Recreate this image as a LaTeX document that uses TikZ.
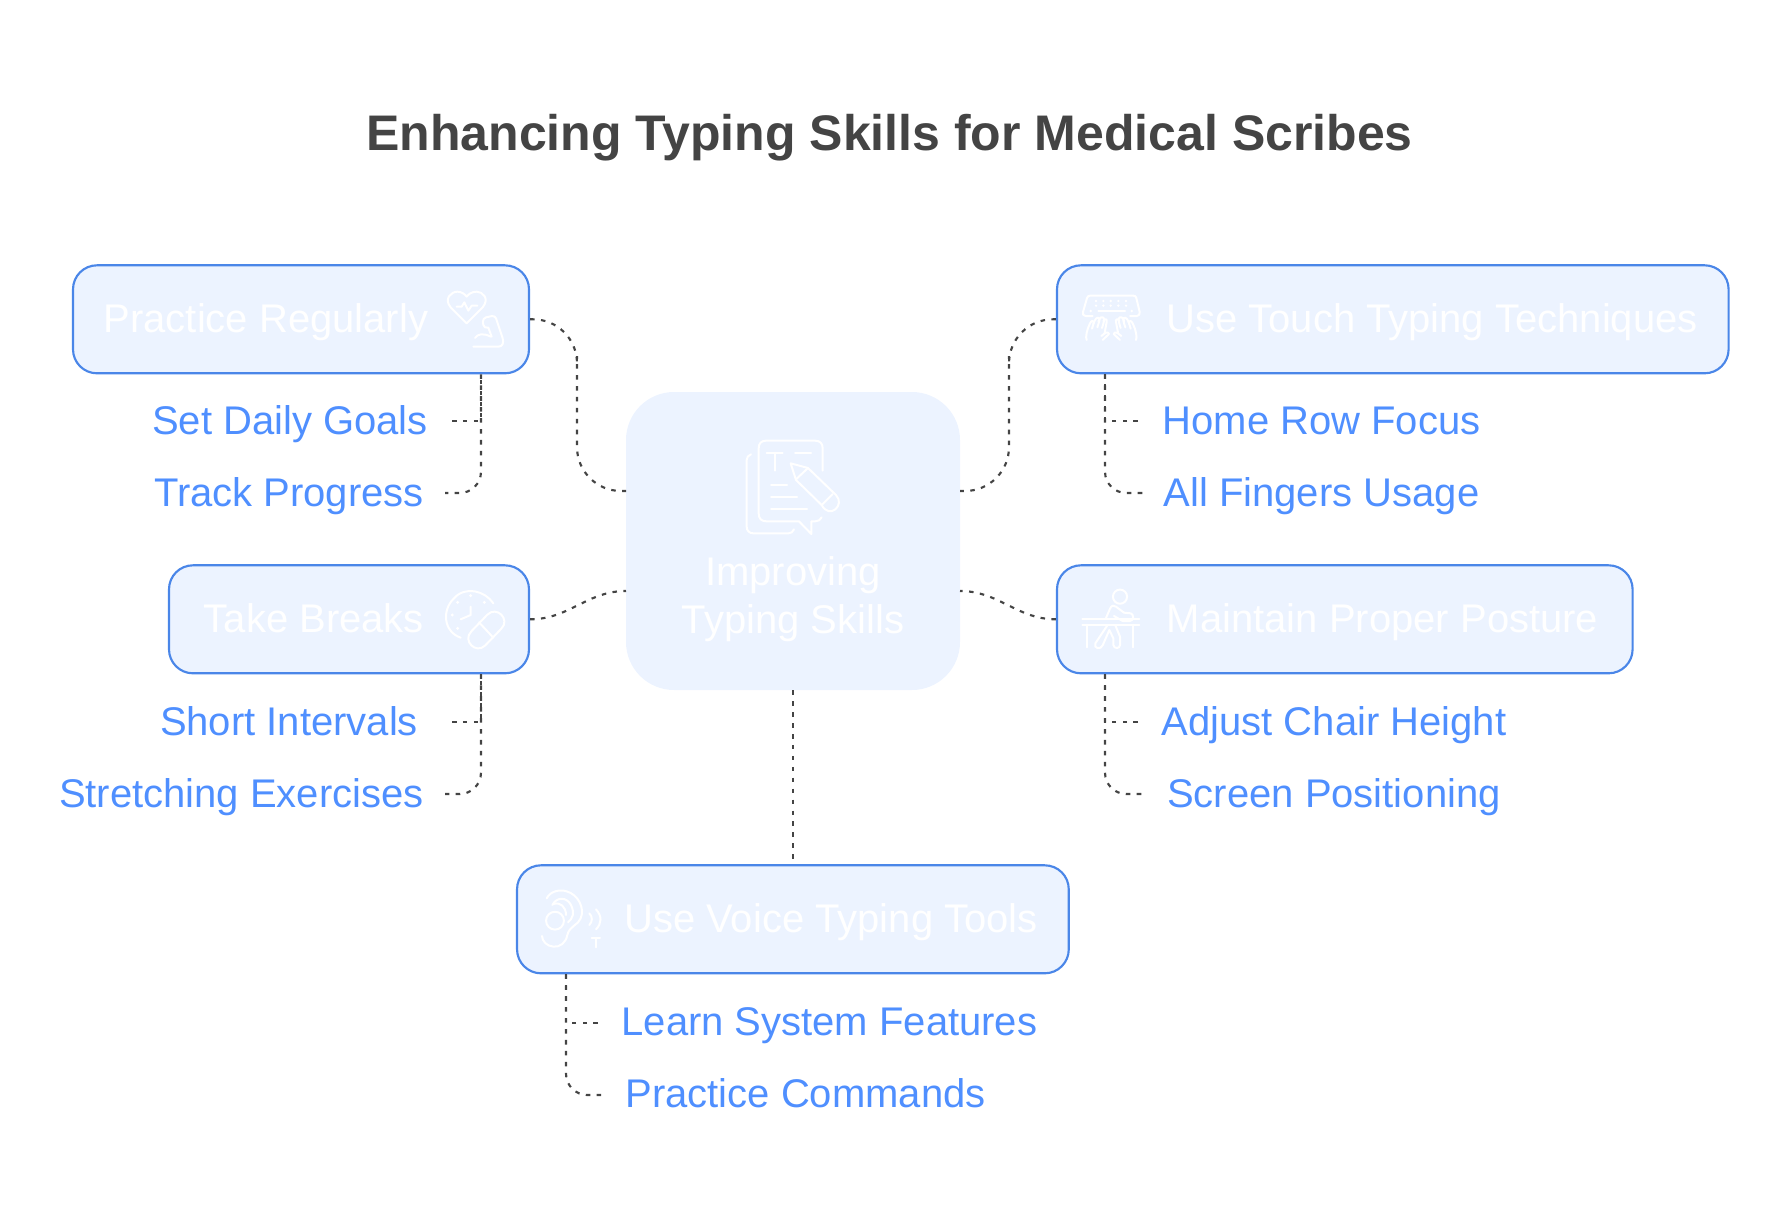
\documentclass[tikz,border=0pt]{standalone}
\usepackage{fontspec}
\setmainfont{Liberation Sans}
\definecolor{panel}{HTML}{ECF3FF}
\definecolor{edge}{HTML}{4A86E8}
\definecolor{leaf}{HTML}{4F8FFF}
\definecolor{ink}{HTML}{444444}
\tikzset{
  catbox/.style={draw=edge,line width=1.6pt,fill=panel,rounded corners=18pt,minimum height=81pt,inner sep=0pt},
  hubbox/.style={fill=panel,rounded corners=36pt,minimum width=250.5pt,minimum height=223.5pt,inner sep=0pt},
  cattext/.style={text=white,font=\fontsize{30pt}{36pt}\selectfont,anchor=base,inner sep=0pt},
  leaftext/.style={text=leaf,font=\fontsize{30pt}{36pt}\selectfont,anchor=base,inner sep=0pt},
  titletext/.style={text=ink,font=\bfseries\fontsize{37.5pt}{42pt}\selectfont,anchor=base,inner sep=0pt},
  conn/.style={draw=ink,line width=1.6pt,dash pattern=on 3.4pt off 4.8pt},
  elbow/.style={conn,rounded corners=33pt},
  twig/.style={conn,rounded corners=16pt},
  glyph/.style={draw=white,line width=1.5pt,line cap=round,line join=round},
  dot/.style={fill=white,draw=none},
}
\begin{document}
\begin{tikzpicture}[x=0.75pt,y=-0.75pt]
\useasboundingbox (0,0) rectangle (1778,1214);

\node[titletext] (title) at (889.5,150) {Enhancing Typing Skills for Medical Scribes};

% boxes
\node[hubbox] (hub) at (793,541) {};
\node[catbox,minimum width=342pt] (practice) at (301,319.3) {};
\node[catbox,minimum width=270pt] (breaks) at (349,619.3) {};
\node[catbox,minimum width=503.7pt] (touch) at (1392.8,319.3) {};
\node[catbox,minimum width=431.7pt] (posture) at (1344.8,619.3) {};
\node[catbox,minimum width=413.8pt] (voice) at (792.9,919.3) {};

% box texts
\node[cattext] (practiceT) at (266,332) {Practice Regularly};
\node[cattext] (breaksT) at (314,632) {Take Breaks};
\node[cattext] (touchT) at (1432,332) {Use Touch Typing Techniques};
\node[cattext] (postureT) at (1382.6,632) {Maintain Proper Posture};
\node[cattext] (voiceT) at (831,932) {Use Voice Typing Tools};
\node[cattext,anchor=center,align=center] (hubT) at (793,599) {Improving\\Typing Skills};

% leaves
\node[leaftext] (goals) at (290,434) {Set Daily Goals};
\node[leaftext] (progress) at (289,506) {Track Progress};
\node[leaftext] (intervals) at (289,735) {Short Intervals};
\node[leaftext] (stretch) at (241.4,807) {Stretching Exercises};
\node[leaftext] (home) at (1321.5,434) {Home Row Focus};
\node[leaftext] (fingers) at (1321.5,506) {All Fingers Usage};
\node[leaftext] (chair) at (1334,735) {Adjust Chair Height};
\node[leaftext] (screen) at (1334,807) {Screen Positioning};
\node[leaftext] (learn) at (829.4,1035) {Learn System Features};
\node[leaftext] (commands) at (805.6,1107) {Practice Commands};

% connector anchors
\coordinate (hubLa) at (626,491);
\coordinate (hubLb) at (626,591);
\coordinate (hubRa) at (960,491);
\coordinate (hubRb) at (960,591);
\coordinate (busL) at (577,400);
\coordinate (busR) at (1009,400);
\coordinate (goalsE) at (452,421);
\coordinate (progressE) at (445,493);
\coordinate (intervalsE) at (452,722);
\coordinate (stretchE) at (445,794);
\coordinate (homeE) at (1138,421);
\coordinate (fingersE) at (1145,493);
\coordinate (chairE) at (1138,722);
\coordinate (screenE) at (1145,794);
\coordinate (learnE) at (598,1023);
\coordinate (commandsE) at (604,1095);
\coordinate (twigL) at (481,400);
\coordinate (twigR) at (1105,400);
\coordinate (twigV) at (566,1000);

% hub connectors
\draw[elbow] (practice.east) -| (busL) |- (hubLa);
\draw[elbow] (touch.west) -| (busR) |- (hubRa);
\draw[conn] (breaks.east) to[out=0,in=180] (hubLb);
\draw[conn] (posture.west) to[out=180,in=0] (hubRb);
\draw[conn] (hub.south) -- (hub.south |- voice.north);

% leaf connectors
\draw[conn] (goalsE) -| (twigL |- practice.south);
\draw[twig] (twigL |- practice.south) |- (progressE);
\draw[conn] (intervalsE) -| (twigL |- breaks.south);
\draw[twig] (twigL |- breaks.south) |- (stretchE);
\draw[conn] (homeE) -| (twigR |- touch.south);
\draw[twig] (twigR |- touch.south) |- (fingersE);
\draw[conn] (chairE) -| (twigR |- posture.south);
\draw[twig] (twigR |- posture.south) |- (screenE);
\draw[conn] (learnE) -| (twigV |- voice.south);
\draw[twig] (twigV |- voice.south) |- (commandsE);

% hub icon
\begin{scope}[shift={(600,380)},x=0.25pt,y=-0.25pt]
  \draw[glyph] (668,272) -- (668,205) .. controls (668,190) and (660,182) .. (645,182) -- (498,182) .. controls (484,182) and (476,190) .. (476,205) -- (476,400) .. controls (476,416) and (484,424) .. (500,424) -- (597,424) -- (634,462) -- (634,424) -- (645,424) .. controls (655,424) and (661,420) .. (665,412);
  \draw[glyph] (500,218) -- (548,218) (525,218) -- (525,272) (585,218) -- (633,218);
  \draw[glyph] (513,314) -- (561,314) (513,350) -- (591,350) (513,386) -- (621,386);
  \draw[glyph] (453,223) .. controls (445,226) and (440,232) .. (440,240) -- (440,440) .. controls (440,452) and (448,460) .. (460,460) -- (565,460) .. controls (573,460) and (579,456) .. (582,448);
  \draw[glyph] (572,250) -- (624,264) -- (708,345) .. controls (722,360) and (718,378) .. (706,388) .. controls (694,398) and (676,396) .. (665,375) -- (588,300) -- cycle;
  \draw[glyph] (588,298) -- (624,264) (665,375) -- (698,342);
\end{scope}

% heart and arm
\begin{scope}[shift={(420,260)},x=0.25pt,y=-0.25pt]
  \draw[glyph] (140,190) -- (92,142) .. controls (70,115) and (95,95) .. (112,95) .. controls (125,95) and (135,103) .. (140,110) .. controls (145,103) and (155,95) .. (170,95) .. controls (187,95) and (210,115) .. (188,142) -- cycle;
  \draw[glyph] (110,140) -- (125,140) -- (133,127) -- (145,152) -- (155,137) -- (172,137);
  \draw[glyph] (160,260) -- (235,260) .. controls (248,260) and (252,248) .. (248,235) -- (228,175) .. controls (226,170) and (222,168) .. (216,168) -- (198,172) .. controls (186,175) and (186,195) .. (195,202) -- (205,203) -- (215,230);
  \draw[glyph] (165,234) .. controls (172,222) and (190,218) .. (212,230);
\end{scope}

% clock and pill
\begin{scope}[shift={(430,570)},x=0.25pt,y=-0.25pt]
  \draw[glyph] (190,100) .. controls (165,62) and (105,47) .. (72,85) .. controls (35,120) and (40,185) .. (92,203);
  \draw[glyph] (122,110) -- (122,135) -- (92,148);
  \foreach \tx/\ty in {122/77,83/97,163/97,67/135,83/175} \fill[dot] (\tx,\ty) circle (1.2pt);
  \draw[glyph] (166,226) -- (214,176) .. controls (242,148) and (200,106) .. (172,134) -- (124,184) .. controls (96,212) and (138,254) .. (166,226) -- cycle;
  \draw[glyph] (147,157) -- (190,203);
\end{scope}

% keyboard and hands
\begin{scope}[shift={(1040,250)},x=0.25pt,y=-0.25pt]
  \draw[glyph] (158,198) -- (137,198) .. controls (130,198) and (127,192) .. (129,186) -- (141,144) .. controls (143,139) and (146,137) .. (150,137) -- (280,137) .. controls (285,137) and (288,139) .. (289,144) -- (299,186) .. controls (300,192) and (297,198) .. (291,198) -- (270,198);
  \foreach \ky in {153,167} \foreach \kx in {168,190,212,235,258} \fill[dot] (\kx,\ky) circle (1pt);
  \fill[dot] (152,183) circle (1pt) (275,183) circle (1pt);
  \draw[glyph] (175,183) -- (255,183);
  \foreach \mir/\off in {1/0,-1/428} {
  \begin{scope}[shift={(\off,0)},xscale=\mir]
    \draw[glyph] (140,270) .. controls (136,262) and (140,240) .. (150,220) .. controls (154,212) and (160,210) .. (162,216) -- (156,236);
    \draw[glyph] (160,222) .. controls (165,208) and (170,200) .. (177,204) .. controls (180,206) and (178,214) .. (172,232);
    \draw[glyph] (175,214) .. controls (180,200) and (188,198) .. (192,206) .. controls (193,212) and (190,222) .. (186,234);
    \draw[glyph] (190,212) .. controls (196,204) and (202,208) .. (200,216) -- (194,248);
    \draw[glyph] (188,270) -- (207,252) .. controls (203,244) and (198,246) .. (184,258);
  \end{scope}}
\end{scope}

% posture
\begin{scope}[shift={(1050,550)},x=0.25pt,y=-0.25pt]
  \draw[glyph] (210,140) circle (5.3pt);
  \draw[glyph] (97,206) -- (268,206) (97,224) -- (268,224);
  \draw[glyph] (112,224) -- (112,292) (248,224) -- (248,292);
  \draw[glyph] (168,204) -- (180,176) .. controls (184,166) and (192,164) .. (198,170) -- (222,188) -- (242,190) .. controls (252,192) and (252,212) .. (240,213) -- (218,213) -- (192,198);
  \draw[glyph] (172,226) -- (136,280) .. controls (130,296) and (152,300) .. (158,286) -- (178,240) -- (190,265) -- (190,285) .. controls (192,298) and (210,296) .. (210,285) -- (210,260) -- (196,226);
\end{scope}

% ear
\begin{scope}[shift={(510,850)},x=0.25pt,y=-0.25pt]
  \draw[glyph] (110,145) .. controls (122,122) and (150,118) .. (170,124) .. controls (205,134) and (225,175) .. (212,205) .. controls (205,225) and (178,228) .. (172,255) .. controls (168,278) and (150,292) .. (130,290) .. controls (110,288) and (97,274) .. (96,258);
  \draw[glyph] (127,165) .. controls (140,140) and (170,140) .. (183,165) .. controls (195,190) and (188,205) .. (174,217);
  \draw[glyph] (130,162) .. controls (150,155) and (168,170) .. (168,195);
  \draw[glyph] (135,212) circle (6.7pt);
  \draw[glyph] (238,190) .. controls (248,200) and (248,214) .. (238,225);
  \draw[glyph] (258,178) .. controls (276,198) and (276,220) .. (258,238);
  \draw[glyph] (245,264) -- (270,264) (258,264) -- (258,292);
\end{scope}
\end{tikzpicture}
\end{document}
